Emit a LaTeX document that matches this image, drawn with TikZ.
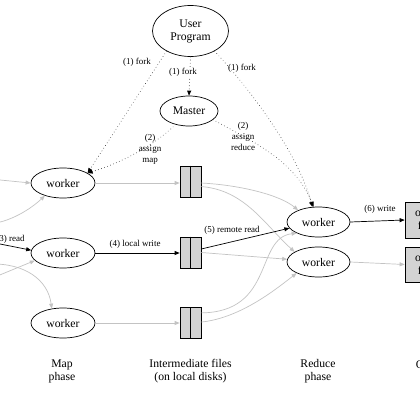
\documentclass[tikz,border=0pt]{standalone}
\usepackage{fontspec}
\setmainfont{Liberation Serif}
\usetikzlibrary{shapes.geometric,arrows.meta}
\definecolor{lgray}{RGB}{195,195,195}
\definecolor{fgray}{RGB}{211,211,211}
\begin{document}
\begin{tikzpicture}[x=1pt,y=-1pt,
  ell/.style={ellipse,draw,line width=0.7pt,inner sep=0pt,font=\fontsize{11.7}{13}\selectfont,align=center},
  filebox/.style={draw,fill=fgray,line width=0.7pt,minimum width=21pt,minimum height=31pt,inner sep=0pt},
  outbox/.style={draw,fill=fgray,line width=0.7pt,minimum width=50pt,minimum height=36pt,inner sep=0pt,font=\fontsize{11.7}{13}\selectfont,align=center},
  lbl/.style={font=\fontsize{9}{11}\selectfont,align=center,inner sep=1pt},
  phase/.style={font=\fontsize{11.7}{13}\selectfont,align=center,inner sep=0pt},
  blk/.style={draw=black,line width=0.7pt,-{Triangle[length=5pt,width=4pt]}},
  gry/.style={draw=lgray,line width=0.7pt,-{Triangle[length=5pt,width=4pt,color=lgray]}},
  dotedge/.style={draw=black!75,line width=0.9pt,dash pattern=on 0.01pt off 3.2pt,line cap=round,-{Triangle[length=5pt,width=4pt,color=black]}}
]
\useasboundingbox (0,0) rectangle (420,420);
\clip (0,0) rectangle (420,420);

% nodes
\node[ell,minimum width=76pt,minimum height=51pt] (up) at (190.5,31) {User\\Program};
\node[ell,minimum width=58pt,minimum height=30pt] (master) at (189,111) {Master};
\node[ell,minimum width=64pt,minimum height=30pt] (w1) at (63,183) {worker};
\node[ell,minimum width=64pt,minimum height=30pt] (w2) at (63,253) {worker};
\node[ell,minimum width=64pt,minimum height=30pt] (w3) at (63,323) {worker};
\node[filebox] (f1) at (190.5,181.5) {};
\node[filebox] (f2) at (190.5,252.5) {};
\node[filebox] (f3) at (190.5,323) {};
\draw[line width=0.7pt] (f1.north) -- (f1.south);
\draw[line width=0.7pt] (f2.north) -- (f2.south);
\draw[line width=0.7pt] (f3.north) -- (f3.south);
\node[ell,minimum width=63pt,minimum height=30pt] (rw1) at (318.5,222) {worker};
\node[ell,minimum width=63pt,minimum height=30pt] (rw2) at (318.5,262) {worker};
\node[outbox] (o1) at (430,220) {output\\file 0};
\node[outbox,minimum height=35pt] (o2) at (430,264.5) {output\\file 1};

% phase labels
\node[phase] (pmap) at (62,371) {Map\\phase};
\node[phase] (pint) at (190.5,371) {Intermediate files\\(on local disks)};
\node[phase] (pred) at (318,371) {Reduce\\phase};
\node[phase] (pout) at (432,371) {Output\\files};

% inputs (off picture)
\coordinate (i1) at (-10,179);
\coordinate (i2) at (-10,224);
\coordinate (i3) at (-10,242);
\coordinate (i4) at (-10,279);
\coordinate (i5) at (-10,264);

\draw[gry] (i1) -- (w1.west);
\draw[gry] (i2) .. controls (15,221) and (35,205) .. (w1.215);
\draw[blk] (i3) -- (w2.175);
\node[lbl] (l3) at (10.5,239.5) {(3) read};
\draw[gry] (i4) -- (w2.195);
\draw[gry] (i5) .. controls (25,263) and (48,280) .. (w3.128);

% map -> files
\draw[gry] (w1.east) -- (w1.east -| f1.west);
\draw[blk] (w2.east) -- (w2.east -| f2.west);
\node[lbl] (l4) at (135,244) {(4) local write};
\draw[gry] (w3.east) -- (w3.east -| f3.west);

% files -> reduce
\draw[gry] (f1.-8) .. controls (240,185) and (280,195) .. (rw1.150);
\draw[gry] (f1.-25) .. controls (245,190) and (265,225) .. (rw2.157);
\draw[blk] (f2.18) -- (rw1.192);
\node[lbl] (l5) at (232,230) {(5) remote read};
\draw[gry] (f2.east) -- (rw2.175);
\draw[gry] (f3.43) .. controls (275,312) and (255,238) .. (rw1.207);
\draw[gry] (f3.5) .. controls (240,318) and (275,290) .. (rw2.207);

% reduce -> outputs
\draw[blk] (rw1.east) -- (o1.west);
\node[lbl] (l6) at (380,209) {(6) write};
\draw[gry] (rw2.east) -- (o2.west);

% control (dotted)
\draw[dotedge] (up.south) -- (master.north);
\node[lbl,fill=white] (lf2) at (183,72) {(1) fork};
\draw[dotedge] (up.220) -- (w1.22);
\node[lbl] (lf1) at (137,62) {(1) fork};
\draw[dotedge] (up.320) .. controls (260,100) and (300,160) .. (rw1.112);
\node[lbl] (lf3) at (242,68) {(1) fork};
\draw[dotedge] (master.225) .. controls (160,140) and (130,160) .. (w1.22);
\node[lbl] (la1) at (150,149) {(2)\\assign\\map};
\draw[dotedge] (master.-20) .. controls (250,140) and (295,160) .. (rw1.108);
\node[lbl] (la2) at (243,136) {(2)\\assign\\reduce};
\end{tikzpicture}
\end{document}
